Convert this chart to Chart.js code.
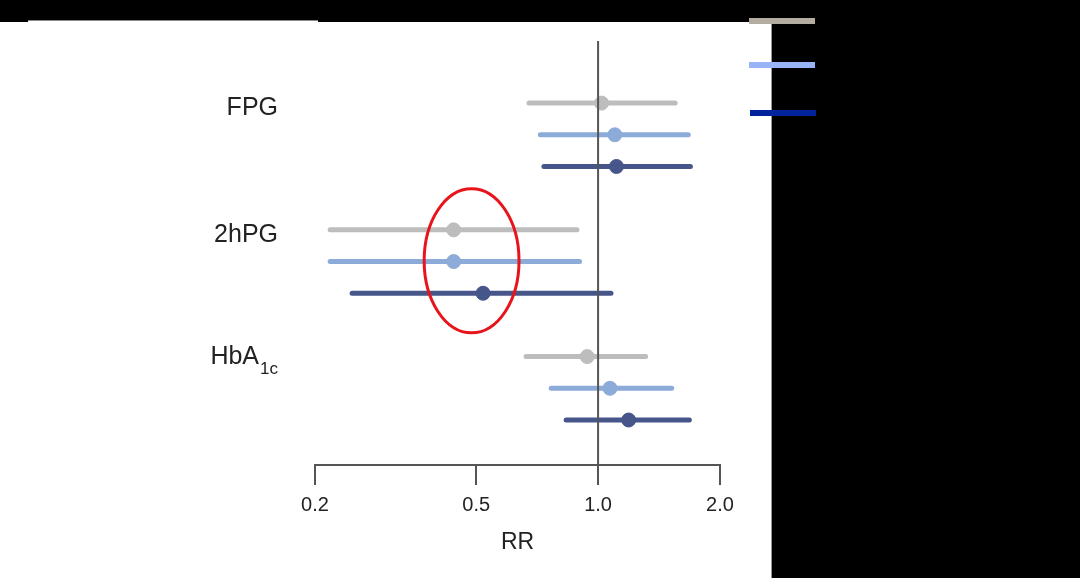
<!DOCTYPE html>
<html>
<head>
    <meta charset="utf-8">
    <title>RR forest plot</title>
    <script src="https://cdn.jsdelivr.net/npm/chart.js@4.4.1/dist/chart.umd.min.js"></script>
    <style>
        body { margin: 0; background: #000; }
        canvas { display: block; }
    </style>
</head>
<body>
    <canvas id="forest" width="1080" height="578"></canvas>
    <script>
        // Dữ liệu: nhóm chỉ số và RR (điểm, cận dưới, cận trên) cho 3 dòng mỗi nhóm
        var groups = ['FPG', '2hPG', 'HbA1c'];
        var seriesNames = ['Series 1', 'Series 2', 'Series 3'];
        var xTicks = [0.2, 0.5, 1.0, 2.0];

        var rrGray = [1.02, 0.44, 0.94];
        var lowGray = [0.675, 0.218, 0.664];
        var highGray = [1.55, 0.887, 1.31];

        var rrLight = [1.10, 0.44, 1.07];
        var lowLight = [0.72, 0.218, 0.766];
        var highLight = [1.67, 0.90, 1.52];

        var rrDark = [1.11, 0.52, 1.19];
        var lowDark = [0.735, 0.247, 0.834];
        var highDark = [1.69, 1.076, 1.68];

        // vị trí hàng: mỗi nhóm 3 hàng, cách nhau 1 hàng trống
        function rowOf(g, s) { return g * 4 + s; }

        var series = [
            { name: seriesNames[0], rr: rrGray, low: lowGray, high: highGray, color: '#bdbdbd' },
            { name: seriesNames[1], rr: rrLight, low: lowLight, high: highLight, color: '#8dabd9' },
            { name: seriesNames[2], rr: rrDark, low: lowDark, high: highDark, color: '#46558a' }
        ];

        var datasets = [];
        series.forEach(function (s, si) {
            groups.forEach(function (g, gi) {
                datasets.push({
                    type: 'line',
                    label: s.name,
                    data: [{ x: s.low[gi], y: rowOf(gi, si) }, { x: s.high[gi], y: rowOf(gi, si) }],
                    borderColor: s.color,
                    borderWidth: 5,
                    borderCapStyle: 'round',
                    pointRadius: 0,
                    order: 2
                });
            });
            datasets.push({
                type: 'scatter',
                label: s.name,
                data: groups.map(function (g, gi) { return { x: s.rr[gi], y: rowOf(gi, si) }; }),
                backgroundColor: s.color,
                borderColor: s.color,
                pointRadius: 7,
                order: 1
            });
        });

        // Vòng elip đỏ quanh nhóm 2hPG
        var highlight = { xMin: 0.372, xMax: 0.638, yMin: 2.7, yMax: 7.25 };

        var decor = {
            id: 'decor',
            beforeDraw: function (chart) {
                var ctx = chart.ctx;
                ctx.save();
                ctx.fillStyle = '#fff';
                ctx.fillRect(0, 22, 771, 556);
                ctx.fillRect(28, 21, 290, 2);
                ctx.fillStyle = '#888';
                ctx.fillRect(28, 20, 290, 1);
                ctx.fillStyle = '#999';
                ctx.fillRect(771, 22, 1, 556);
                ctx.restore();
            },
            afterDatasetsDraw: function (chart) {
                var ctx = chart.ctx;
                var x = chart.scales.x, y = chart.scales.y;
                ctx.save();

                // đường tham chiếu RR = 1
                ctx.strokeStyle = '#555';
                ctx.lineWidth = 2;
                ctx.beginPath();
                ctx.moveTo(x.getPixelForValue(1), chart.chartArea.top);
                ctx.lineTo(x.getPixelForValue(1), chart.chartArea.bottom);
                ctx.stroke();

                // nhãn nhóm
                ctx.fillStyle = '#222';
                ctx.textAlign = 'right';
                ctx.textBaseline = 'middle';
                ctx.font = '25px "Liberation Sans", Arial, sans-serif';
                groups.forEach(function (g, gi) {
                    var py = y.getPixelForValue(rowOf(gi, 0));
                    if (g === 'HbA1c') {
                        ctx.font = '17px "Liberation Sans", Arial, sans-serif';
                        var subW = ctx.measureText('1c').width;
                        ctx.fillText('1c', 278, py + 13);
                        ctx.font = '25px "Liberation Sans", Arial, sans-serif';
                        ctx.fillText('HbA', 278 - subW - 1, py);
                    } else {
                        ctx.fillText(g, 278, py + 5);
                    }
                });

                // elip
                var x0 = x.getPixelForValue(highlight.xMin), x1 = x.getPixelForValue(highlight.xMax);
                var y0 = y.getPixelForValue(highlight.yMin), y1 = y.getPixelForValue(highlight.yMax);
                ctx.strokeStyle = '#e8141b';
                ctx.lineWidth = 3;
                ctx.beginPath();
                ctx.ellipse((x0 + x1) / 2, (y0 + y1) / 2, Math.abs(x1 - x0) / 2, Math.abs(y1 - y0) / 2, 0, 0, Math.PI * 2);
                ctx.stroke();

                // chú thích (chỉ còn các vạch màu)
                var legendCols = ['#b4ad9f', '#98b3f6', '#00249c'];
                var legendY = [21, 65, 113];
                legendCols.forEach(function (c, i) {
                    ctx.fillStyle = c;
                    ctx.fillRect(749 + (i === 2 ? 1 : 0), legendY[i] - 3, 66, 6);
                });
                ctx.restore();
            }
        };

        new Chart(document.getElementById('forest'), {
            data: { datasets: datasets },
            options: {
                responsive: false,
                animation: false,
                layout: { padding: { left: 315, right: 360, top: 41, bottom: 0 } },
                plugins: { legend: { display: false }, tooltip: { enabled: false } },
                scales: {
                    x: {
                        type: 'logarithmic',
                        min: 0.2,
                        max: 2.0,
                        afterBuildTicks: function (s) { s.ticks = xTicks.map(function (v) { return { value: v }; }); },
                        afterFit: function (s) { s.height = 113; },
                        ticks: {
                            padding: 8,
                            color: '#222',
                            font: { family: '"Liberation Sans", Arial, sans-serif', size: 20 },
                            callback: function (v) { return v.toFixed(1); },
                            maxRotation: 0
                        },
                        grid: { drawOnChartArea: false, tickLength: 20, color: '#555', lineWidth: 2 },
                        border: { display: true, color: '#555', width: 2 },
                        title: {
                            display: true,
                            text: 'RR',
                            color: '#222',
                            font: { family: '"Liberation Sans", Arial, sans-serif', size: 23 },
                            padding: { top: 0, bottom: 22 }
                        }
                    },
                    y: {
                        type: 'linear',
                        display: false,
                        reverse: true,
                        min: -1.96,
                        max: 11.42
                    }
                }
            },
            plugins: [decor]
        });
    </script>
</body>
</html>
